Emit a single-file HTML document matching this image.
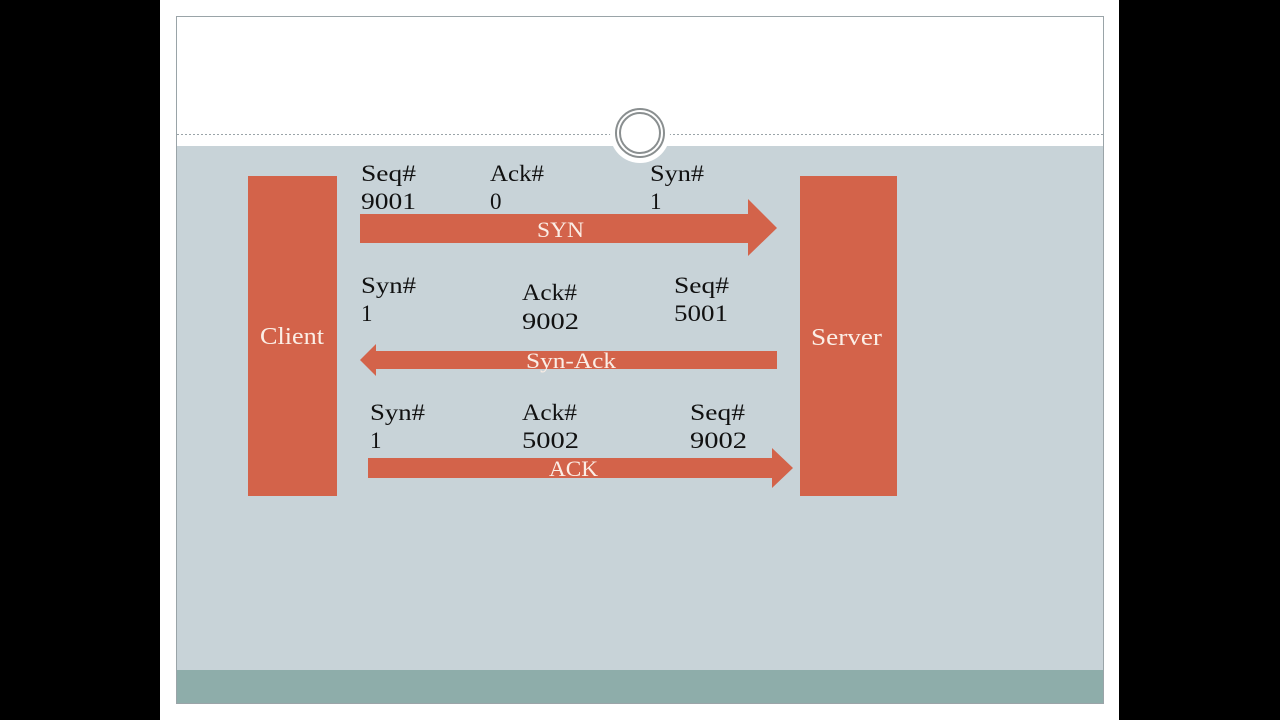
<!DOCTYPE html>
<html><head><meta charset="utf-8"><style>
html,body{margin:0;padding:0;background:#000;width:1280px;height:720px;overflow:hidden}
svg{display:block}
text{font-family:"Liberation Serif",serif}
</style></head><body>
<svg width="1280" height="720" viewBox="0 0 1280 720" xmlns="http://www.w3.org/2000/svg">
<rect x="0" y="0" width="1280" height="720" fill="#000"/>
<rect x="160" y="0" width="959" height="720" fill="#fff"/>
<rect x="176.5" y="16.5" width="927" height="687" fill="#fff" stroke="#9aa4a8" stroke-width="1"/>
<rect x="177" y="146" width="926" height="524" fill="#c8d3d8"/>
<rect x="177" y="670" width="926" height="33" fill="#8eadaa"/>
<line x1="177" y1="134.5" x2="1103" y2="134.5" stroke="#9aa4a8" stroke-width="1" stroke-dasharray="2,2"/>
<circle cx="640" cy="133" r="30" fill="#fff"/>
<circle cx="640" cy="133" r="24" fill="none" stroke="#8a8f90" stroke-width="2"/>
<circle cx="640" cy="133" r="20" fill="none" stroke="#8a8f90" stroke-width="2"/>

<rect x="248" y="176" width="89" height="320" fill="#d3634a"/>
<rect x="800" y="176" width="97" height="320" fill="#d3634a"/>
<text x="260" y="344" font-size="24" fill="#fbeee6" textLength="64" lengthAdjust="spacingAndGlyphs">Client</text>
<text x="811" y="345" font-size="24" fill="#fbeee6" textLength="71" lengthAdjust="spacingAndGlyphs">Server</text>

<polygon points="360,214 748,214 748,199 777,228 748,256 748,243 360,243" fill="#d3634a"/>
<text x="537" y="237" font-size="22" fill="#fbeee6" textLength="47" lengthAdjust="spacingAndGlyphs">SYN</text>

<polygon points="777,351 376,351 376,344 360,360 376,376 376,369 777,369" fill="#d3634a"/>
<text x="526" y="368" font-size="22" fill="#fbeee6" textLength="90" lengthAdjust="spacingAndGlyphs">Syn-Ack</text>

<polygon points="368,458 772,458 772,448 793,468 772,488 772,478 368,478" fill="#d3634a"/>
<text x="549" y="476" font-size="22" fill="#fbeee6" textLength="49" lengthAdjust="spacingAndGlyphs">ACK</text>

<g font-size="23" fill="#111" lengthAdjust="spacingAndGlyphs">
<text x="361" y="181" textLength="55" lengthAdjust="spacingAndGlyphs">Seq#</text><text x="361" y="209" textLength="55" lengthAdjust="spacingAndGlyphs">9001</text>
<text x="490" y="181" textLength="54" lengthAdjust="spacingAndGlyphs">Ack#</text><text x="490" y="209">0</text>
<text x="650" y="181" textLength="54" lengthAdjust="spacingAndGlyphs">Syn#</text><text x="650" y="209">1</text>

<text x="361" y="293" textLength="55" lengthAdjust="spacingAndGlyphs">Syn#</text><text x="361" y="321">1</text>
<text x="522" y="300" textLength="55" lengthAdjust="spacingAndGlyphs">Ack#</text><text x="522" y="329" textLength="57" lengthAdjust="spacingAndGlyphs">9002</text>
<text x="674" y="293" textLength="55" lengthAdjust="spacingAndGlyphs">Seq#</text><text x="674" y="321" textLength="54" lengthAdjust="spacingAndGlyphs">5001</text>

<text x="370" y="420" textLength="55" lengthAdjust="spacingAndGlyphs">Syn#</text><text x="370" y="448">1</text>
<text x="522" y="420" textLength="55" lengthAdjust="spacingAndGlyphs">Ack#</text><text x="522" y="448" textLength="57" lengthAdjust="spacingAndGlyphs">5002</text>
<text x="690" y="420" textLength="55" lengthAdjust="spacingAndGlyphs">Seq#</text><text x="690" y="448" textLength="57" lengthAdjust="spacingAndGlyphs">9002</text>
</g>
</svg>
</body></html>
